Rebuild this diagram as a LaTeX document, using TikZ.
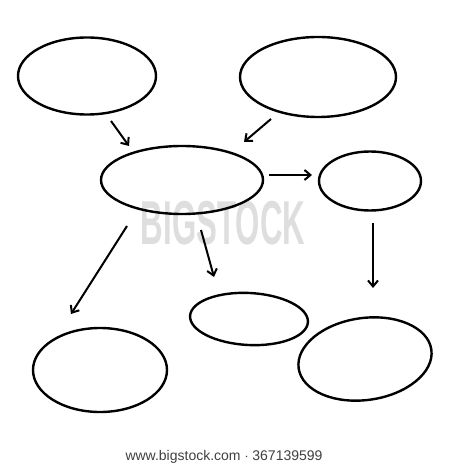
\documentclass[tikz,border=0pt]{standalone}
\usepackage{fontspec}
\setsansfont{Liberation Sans}
\usetikzlibrary{shapes.geometric,arrows.meta}
\tikzset{
  bub/.style={ellipse, draw, line width=2.4pt, inner sep=0pt},
  arr/.style={-{Straight Barb[length=6pt,width=10pt,line width=2pt]}, line width=2pt}
}
\begin{document}
\begin{tikzpicture}[x=1pt,y=-1pt]
\useasboundingbox (0,0) rectangle (450,470);
\fill[white] (0,0) rectangle (450,470);
\node[text=black!13, font=\sffamily\bfseries\fontsize{40}{40}\selectfont, xscale=0.78, yscale=1.55] (wm) at (223,223){BIGSTOCK};
\node[bub, minimum width=138pt, minimum height=77pt] (tl) at (87,76){};
\node[bub, minimum width=156pt, minimum height=80pt] (tr) at (318,77){};
\node[bub, minimum width=162pt, minimum height=68pt] (ctr) at (182,180){};
\node[bub, minimum width=102pt, minimum height=59pt] (rm) at (370,181){};
\node[bub, minimum width=134pt, minimum height=84pt] (bl) at (100,370){};
\node[bub, minimum width=118pt, minimum height=52pt, rotate=-3] (bm) at (249,319){};
\node[bub, minimum width=134pt, minimum height=82pt, rotate=8] (br) at (365,359){};
\coordinate (a1) at (111,121);
\coordinate (b1) at (129,146);
\coordinate (a2) at (271,119);
\coordinate (b2) at (244,142);
\coordinate (a3) at (269,175);
\coordinate (b3) at (312,175);
\coordinate (a4) at (127,226);
\coordinate (b4) at (71,314);
\coordinate (a5) at (201,230);
\coordinate (b5) at (214,277);
\coordinate (a6) at (373,223);
\coordinate (b6) at (373,288);
\draw[arr] (a1) -- (b1);
\draw[arr] (a2) -- (b2);
\draw[arr] (a3) -- (b3);
\draw[arr] (a4) -- (b4);
\draw[arr] (a5) -- (b5);
\draw[arr] (a6) -- (b6);
\node[text=black!75, font=\sffamily\fontsize{14}{14}\selectfont] (id) at (224,457){www.bigstock.com $\cdot$ 367139599};
\end{tikzpicture}
\end{document}
